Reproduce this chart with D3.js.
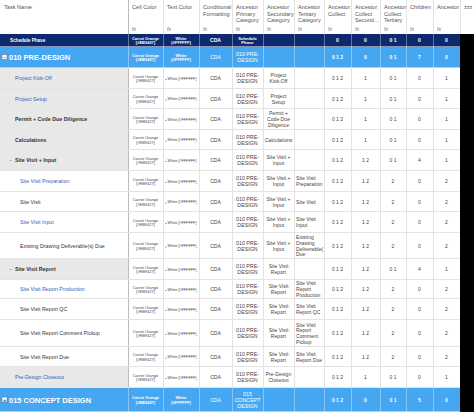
<!DOCTYPE html>
<html><head><meta charset="utf-8">
<script src="https://cdn.jsdelivr.net/npm/d3@7"></script>
<style>body{margin:0;background:#fff}svg{display:block;font-family:Arial,"Liberation Sans",sans-serif}</style>
</head><body><svg id="c" width="474" height="412"></svg>
<script>
const headers=["Task Name","Cell Color","Text Color","Conditional\nFormatting","Ancestor\nPrimary\nCategory","Ancestor\nSecondary\nCategory","Ancestor\nTertiary\nCategory","Ancestor\nCollect","Ancestor\nCollect\nSecond...","Ancestor\nCollect\nTertiary","Children","Ancestor","zzz"];
const taskNames=["Schedule Phase","010 PRE-DESIGN","Project Kick-Off","Project Setup","Permit + Code Due Diligence","Calculations","Site Visit + Input","Site Visit Preparation","Site Visit","Site Visit Input","Existing Drawing Deliverable(s) Due","Site Visit Report","Site Visit Report Production","Site Visit Report QC","Site Visit Report Comment Pickup","Site Visit Report Due","Pre-Design Closeout","015 CONCEPT DESIGN"];
const rowType=["phase","group","l1","l1","l1","l1","l1","l2","l2","l2","l2","l1","l2","l2","l2","l2","l1","group"];
const nameStyle=["w","w","blue","blue","bold","bold","bold","blue","dark","blue","dark","bold","blue","dark","dark","dark","blue","w"];
const primaryCat=["Schedule\nPhase","010 PRE-\nDESIGN","010 PRE-\nDESIGN","010 PRE-\nDESIGN","010 PRE-\nDESIGN","010 PRE-\nDESIGN","010 PRE-\nDESIGN","010 PRE-\nDESIGN","010 PRE-\nDESIGN","010 PRE-\nDESIGN","010 PRE-\nDESIGN","010 PRE-\nDESIGN","010 PRE-\nDESIGN","010 PRE-\nDESIGN","010 PRE-\nDESIGN","010 PRE-\nDESIGN","010 PRE-\nDESIGN","015\nCONCEPT\nDESIGN"];
const secondaryCat=["","","Project\nKick-Off","Project\nSetup","Permit +\nCode Due\nDiligence","Calculations","Site Visit +\nInput","Site Visit +\nInput","Site Visit +\nInput","Site Visit +\nInput","Site Visit +\nInput","Site Visit\nReport","Site Visit\nReport","Site Visit\nReport","Site Visit\nReport","Site Visit\nReport","Pre-Design\nCloseout",""];
const tertiaryCat=["","","","","","","","Site Visit\nPreparation","Site Visit","Site Visit\nInput","Existing\nDrawing\nDeliverable(\nDue","","Site Visit\nReport\nProduction","Site Visit\nReport QC","Site Visit\nReport\nComment\nPickup","Site Visit\nReport Due","",""];
const collect=["0","0 1 2","0 1 2","0 1 2","0 1 2","0 1 2","0 1 2","0 1 2","0 1 2","0 1 2","0 1 2","0 1 2","0 1 2","0 1 2","0 1 2","0 1 2","0 1 2","0 1 2"];
const collectSecondary=["0","0","1","1","1","1","1 2","1 2","1 2","1 2","1 2","1 2","1 2","1 2","1 2","1 2","1","0"];
const collectTertiary=["0 1","0 1","0 1","0 1","0 1","0 1","0 1","2","2","2","2","0 1","2","2","2","2","0 1","0 1"];
const children=["0","7","0","0","0","0","4","0","0","0","0","4","0","0","0","0","0","5"];
const ancestor=["0","0","1","1","1","1","1","2","2","2","2","1","2","2","2","2","1","0"];

// layout
const colEdges=[0,128,163,199,232,263,294,324,351,380,406,433,460,474];
const rowEdges=[34,47,68,89,109,130,150,171,192,212,233,259,280,299,320,347,367,388,412];
const svg=d3.select("#c");
const x=i=>colEdges[i], w=i=>colEdges[i+1]-colEdges[i];
const y=r=>rowEdges[r], h=r=>rowEdges[r+1]-rowEdges[r];
const NAVY="#0d2a6e",BLUE="#45a6f2";

function mtext(g,str,cx,cy,opt){
  const lines=str.split("\n"),lh=opt.lh||6.5;
  const t=g.append("text").attr("x",cx).attr("font-size",opt.fs||5.5).attr("fill",opt.fill||"#333")
   .attr("text-anchor",opt.anchor||"middle").attr("font-weight",opt.fw||"normal");
  lines.forEach((l,i)=>t.append("tspan").attr("x",cx).attr("y",cy+(i-(lines.length-1)/2)*lh+opt.fs*0.35).text(l));
}
// header
headers.forEach((hd,i)=>{
  const g=svg.append("g");
  mtext(g,hd,x(i)+4,4+hd.split("\n").length*3.2,{fs:5.6,lh:6.5,fill:"#555",anchor:"start"});
  if(i>0&&i<12) svg.append("text").attr("x",x(i)+4).attr("y",31).attr("font-size",5).attr("fill","#666").attr("font-style","italic").text("fx");
  if(i>0) svg.append("line").attr("x1",x(i)+0.5).attr("x2",x(i)+0.5).attr("y1",0).attr("y2",34).attr("stroke",i==1?"#bbb":"#e3e3e3");
});
// rows
taskNames.forEach((nm,r)=>{
  const t=rowType[r], g=svg.append("g");
  const bg=t=="phase"?NAVY:t=="group"?BLUE:"#fff";
  g.append("rect").attr("x",0).attr("y",y(r)).attr("width",474).attr("height",h(r)).attr("fill",bg);
  if(t=="l1") g.append("rect").attr("x",0).attr("y",y(r)).attr("width",w(0)).attr("height",h(r)).attr("fill","#e8e8e8");
  g.append("rect").attr("x",x(12)).attr("y",y(r)).attr("width",w(12)).attr("height",h(r)).attr("fill","#000");
  const hdr=t=="phase"||t=="group";
  const fill=hdr?"#fff":"#444", cy=y(r)+h(r)/2;
  // grid
  for(let i=1;i<12;i++) g.append("line").attr("x1",x(i)+0.5).attr("x2",x(i)+0.5).attr("y1",y(r)).attr("y2",y(r+1)).attr("stroke",hdr?"rgba(255,255,255,0.35)":(i==1?"#bbb":"#e3e3e3"));
  g.append("line").attr("x1",0).attr("x2",460).attr("y1",y(r+1)-0.5).attr("y2",y(r+1)-0.5).attr("stroke",hdr?"rgba(255,255,255,0.5)":"#e3e3e3");
  // task name
  const ns=nameStyle[r];
  if(t=="phase") mtext(g,nm,10,cy,{fs:4.6,fill:"#fff",anchor:"start",fw:"bold"});
  else if(t=="group"){
    g.append("rect").attr("x",2).attr("y",cy-3).attr("width",5).attr("height",5).attr("fill","#fff").attr("stroke","#666").attr("stroke-width",0.5);
    g.append("text").attr("x",4.5).attr("y",cy+1.8).attr("font-size",5.5).attr("text-anchor","middle").attr("fill","#333").text(r==1?"−":"+");
    mtext(g,nm,9,cy,{fs:7.5,fill:"#fff",anchor:"start",fw:"bold"});
  } else {
    let ix=t=="l1"?15:20; if(nm=="Site Visit + Input"||nm=="Site Visit Report"){ix=15;g.append("text").attr("x",9).attr("y",cy+1.8).attr("font-size",5.5).attr("fill","#666").text("−");}
    if(nm=="Pre-Design Closeout") ix=15;
    mtext(g,nm,ix,cy,{fs:5.3,anchor:"start",fill:ns=="blue"?"#2f5fbf":"#333",fw:ns=="bold"?"bold":"normal"});
  }
  // cell color / text color / cda
  mtext(g,"Carrot Orange\n[#EB9427]",x(1)+w(1)/2,cy,{fs:4,lh:4.6,fill,fw:hdr?"bold":"normal"});
  if(hdr) mtext(g,"White\n[#FFFFFF]",x(2)+w(2)/2,cy,{fs:4,lh:4.6,fill,fw:"bold"});
  else { mtext(g,"White [#FFFFFF]",x(2)+w(2)/2+1,cy,{fs:3.8,fill}); g.append("circle").attr("cx",x(2)+3).attr("cy",cy+1).attr("r",0.6).attr("fill","#2f5fbf"); }
  mtext(g,"CDA",x(3)+w(3)/2,cy,{fs:5,fill,fw:t=="phase"?"bold":"normal"});
  mtext(g,primaryCat[r],x(4)+w(4)/2,cy,{fs:t=="phase"?4.2:5.3,lh:t=="phase"?4.6:6.2,fill,fw:t=="phase"?"bold":"normal"});
  mtext(g,secondaryCat[r],x(5)+w(5)/2,cy,{fs:5.1,lh:6,fill});
  mtext(g,tertiaryCat[r],x(6)+2,cy,{fs:5.1,lh:5.8,fill,anchor:"start"});
  [collect,collectSecondary,collectTertiary,children,ancestor].forEach((arr,k)=>{
    mtext(g,arr[r],x(7+k)+w(7+k)/2,cy,{fs:5,fill,fw:hdr?"bold":"normal"});
  });
});
</script></body></html>
